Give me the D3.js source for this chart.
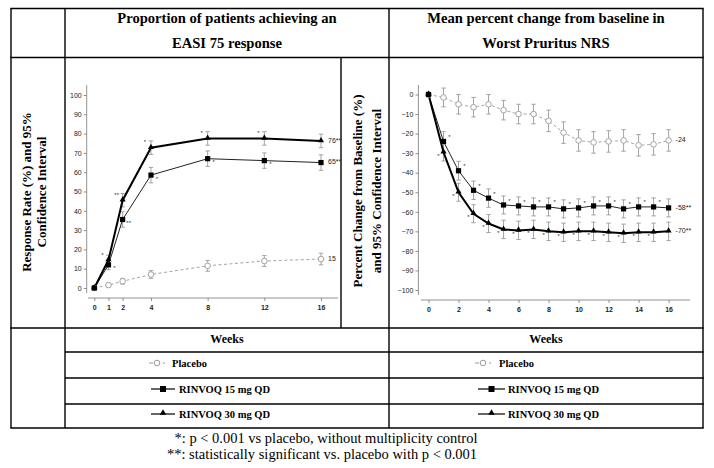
<!DOCTYPE html>
<html><head><meta charset="utf-8">
<script src="https://cdn.jsdelivr.net/npm/d3@7"></script>
<style>body{margin:0;background:#fff}svg{display:block}</style>
</head><body>
<svg id="c" width="714" height="468"></svg>
<script>
// ---------- DATA ----------
const weeksL = [0, 1, 2, 4, 8, 12, 16];
const placeboL = [0, 1.5, 3.5, 7, 11.5, 14, 15];
const placeboLci = [0, 1, 1.5, 2, 2.8, 2.8, 3];
const r15L = [0, 12, 35.5, 58.5, 67, 66, 65];
const r15Lci = [0, 2.5, 4, 4, 4, 4, 4];
const r30L = [0, 14.5, 45.5, 72.7, 77.5, 77.5, 76.2];
const r30Lci = [0, 2.5, 3.5, 3.5, 3.5, 3.5, 3.5];
const r15Lsig = ["", "*", "**", "*", "*", "*", ""];
const r30Lsig = ["", "*", "**", "*", "*", "*", ""];
const endLabelsL = ["15", "65**", "76**"];
const yTicksL = [0, 10, 20, 30, 40, 50, 60, 70, 80, 90, 100];
const xTicksL = [0, 1, 2, 4, 8, 12, 16];

const weeksR = [0,1,2,3,4,5,6,7,8,9,10,11,12,13,14,15,16];
const placeboR = [0,-1.5,-5,-6.5,-5,-8,-10,-10,-13.5,-19.5,-23.5,-24.5,-24,-23.5,-26,-25.5,-23.5];
const placeboRci = [0,4.8,5,5,5,5,5,5,5.5,5.5,5.5,5.5,5.5,5.5,5.5,5.5,5.5];
const r15R = [0,-24,-39,-49,-53,-56.5,-57,-57.5,-57.5,-58.5,-58,-57,-57,-58.5,-57.5,-57.5,-58];
const r15Rci = [0,5,4.8,4.7,4.7,4.6,4.6,4.6,4.6,4.6,4.6,4.6,4.6,4.6,4.6,4.6,4.6];
const r30R = [0,-29.5,-50,-61,-66,-69,-69.5,-69,-70,-70.5,-70,-70,-70.5,-71,-70.5,-70.5,-70];
const r30Rci = [0,4.5,4.6,4.6,4.6,4.7,4.7,4.7,4.7,4.7,4.7,4.7,4.7,4.7,4.7,4.7,4.7];
const r15Rsig = ["","*","*","*","*","*","*","*","*","*","*","*","*","*","*","*",""];
const r30Rsig = ["","*","*","*","*","*","*","*","*","*","*","*","*","*","*","*",""];
const endLabelsR = ["-24", "-58**", "-70**"];
const yTicksR = [0,-10,-20,-30,-40,-50,-60,-70,-80,-90,-100];
const xTicksR = [0,2,4,6,8,10,12,14,16];

const headerLeft = ["Proportion of patients achieving an", "EASI 75 response"];
const headerRight = ["Mean percent change from baseline in", "Worst Pruritus NRS"];
const yTitleLeft = ["Response Rate (%) and 95%", "Confidence Interval"];
const yTitleRight = ["Percent Change from Baseline (%)", "and 95% Confidence Interval"];
const xTitle = "Weeks";
const legendNames = ["Placebo", "RINVOQ 15 mg QD", "RINVOQ 30 mg QD"];
const footnotes = ["*: p < 0.001 vs placebo, without multiplicity control",
                   "**: statistically significant vs. placebo with p < 0.001"];

// ---------- DRAW ----------
const svg = d3.select("#c");
const SERIF = "'Liberation Serif','Times New Roman',serif";
const SANS = "'Liberation Sans',Arial,sans-serif";
const GREY = "#9a9a9a";

// table grid
const grid = svg.append("g").attr("stroke", "#000").attr("stroke-width", 1.4);
function hl(y, x1, x2){ grid.append("line").attr("x1",x1).attr("x2",x2).attr("y1",y).attr("y2",y); }
function vl(x, y1, y2){ grid.append("line").attr("x1",x).attr("x2",x).attr("y1",y1).attr("y2",y2); }
hl(8.5, 10.3, 703.7); hl(57.5, 10.3, 703.7); hl(328, 10.3, 703.7);
hl(352, 65, 703.7); hl(378, 65, 703.7); hl(404, 65, 703.7); hl(428, 10.3, 703.7);
vl(11, 8.5, 428); vl(65, 8.5, 428); vl(389, 8.5, 428); vl(703, 8.5, 428); vl(341, 57.5, 328);

// headers
function txt(x, y, s, size, weight, anchor, fam){
  return svg.append("text").attr("x",x).attr("y",y).attr("font-family",fam||SERIF)
    .attr("font-size",size).attr("font-weight",weight||"normal")
    .attr("text-anchor",anchor||"middle").attr("dominant-baseline","middle").text(s);
}
headerLeft.forEach((s,i)=>txt(227, 20 + i*25, s, 14.6, "bold"));
headerRight.forEach((s,i)=>txt(546, 20 + i*25, s, 14.6, "bold"));

// y titles (rotated)
function rot(x, y, s){
  svg.append("text").attr("transform",`translate(${x},${y}) rotate(-90)`)
    .attr("font-family",SERIF).attr("font-size",13).attr("font-weight","bold")
    .attr("text-anchor","middle").attr("dominant-baseline","middle").text(s);
}
rot(28, 192, yTitleLeft[0]); rot(43, 192, yTitleLeft[1]);
rot(359, 191, yTitleRight[0]); rot(378, 191, yTitleRight[1]);

// Weeks + legend rows
txt(227, 340, xTitle, 12, "bold"); txt(546, 340, xTitle, 12, "bold");

function legendSym(g, x, y, w, kind){
  const s = g.append("g");
  if (kind === 0){
    s.append("line").attr("x1",x).attr("x2",x+w).attr("y1",y).attr("y2",y)
      .attr("stroke",GREY).attr("stroke-width",1).attr("stroke-dasharray","4,3");
    s.append("circle").attr("cx",x+w/2).attr("cy",y).attr("r",2.8).attr("fill","#fff").attr("stroke",GREY);
  } else if (kind === 1){
    s.append("line").attr("x1",x).attr("x2",x+w).attr("y1",y).attr("y2",y).attr("stroke","#000").attr("stroke-width",1.2);
    s.append("rect").attr("x",x+w/2-3).attr("y",y-3).attr("width",6).attr("height",6).attr("fill","#000");
  } else {
    s.append("line").attr("x1",x).attr("x2",x+w).attr("y1",y).attr("y2",y).attr("stroke","#000").attr("stroke-width",1.2);
    s.append("path").attr("transform",`translate(${x+w/2},${y-1})`).attr("d",d3.symbol(d3.symbolTriangle,18)()).attr("fill","#000");
  }
}
const legY = [365, 391, 416];
// left column
legendSym(svg, 149, legY[0]-2, 16, 0); txt(172, legY[0], legendNames[0], 10.5, "bold", "start");
legendSym(svg, 151, legY[1]-2, 24, 1); txt(179, legY[1], legendNames[1], 10.5, "bold", "start");
legendSym(svg, 151, legY[2]-2, 24, 2); txt(179, legY[2], legendNames[2], 10.5, "bold", "start");
// right column
legendSym(svg, 475, legY[0]-2, 16, 0); txt(499, legY[0], legendNames[0], 10.5, "bold", "start");
legendSym(svg, 478, legY[1]-2, 27, 1); txt(508, legY[1], legendNames[1], 10.5, "bold", "start");
legendSym(svg, 478, legY[2]-2, 27, 2); txt(508, legY[2], legendNames[2], 10.5, "bold", "start");

// footnotes
txt(326, 440, footnotes[0], 14.5, "normal");
txt(322, 456, footnotes[1], 14.5, "normal");

// ---------- charts ----------
function chart(opt){
  const g = svg.append("g");
  const x = opt.x, y = opt.y;
  // y axis
  const ya = g.append("g").attr("transform",`translate(${opt.yAxisX},0)`)
    .call(d3.axisLeft(y).tickValues(opt.yTicks).tickSize(3).tickPadding(2));
  ya.select(".domain").remove();
  ya.selectAll("line").attr("stroke","#777").attr("stroke-width",0.8);
  ya.selectAll("text").attr("font-family",SANS).attr("font-size",7).attr("fill","#222");
  g.append("line").attr("x1",opt.yAxisX).attr("x2",opt.yAxisX).attr("y1",opt.yTop).attr("y2",opt.yBot)
    .attr("stroke","#777").attr("stroke-width",0.8);
  // x axis
  const xa = g.append("g").attr("transform",`translate(0,${opt.xAxisY})`)
    .call(d3.axisBottom(x).tickValues(opt.xTicks).tickSize(3).tickPadding(4));
  xa.select(".domain").remove();
  xa.selectAll("line").attr("stroke","#777").attr("stroke-width",0.8);
  xa.selectAll("text").attr("font-family",SANS).attr("font-size",7).attr("font-weight","bold").attr("fill","#222");
  g.append("line").attr("x1",opt.xLeft).attr("x2",opt.xRight).attr("y1",opt.xAxisY).attr("y2",opt.xAxisY)
    .attr("stroke","#777").attr("stroke-width",0.8);

  const line = d3.line().x(d=>x(d[0])).y(d=>y(d[1]));
  opt.series.forEach(s=>{
    const pts = opt.weeks.map((w,i)=>[w, s.v[i], s.ci[i]]);
    const eb = g.append("g").attr("stroke",GREY).attr("stroke-width",0.9);
    pts.forEach(p=>{
      if (!p[2]) return;
      const cx = x(p[0]);
      eb.append("line").attr("x1",cx).attr("x2",cx).attr("y1",y(p[1]-p[2])).attr("y2",y(p[1]+p[2]));
      [p[1]-p[2], p[1]+p[2]].forEach(v=>eb.append("line").attr("x1",cx-2.2).attr("x2",cx+2.2).attr("y1",y(v)).attr("y2",y(v)));
    });
  });
  opt.series.forEach(s=>{
    const pts = opt.weeks.map((w,i)=>[w, s.v[i]]);
    g.append("path").datum(pts).attr("d",line).attr("fill","none")
      .attr("stroke",s.color).attr("stroke-width",s.width).attr("stroke-dasharray",s.dash||null);
  });
  opt.series.forEach(s=>{
    const pts = opt.weeks.map((w,i)=>[w, s.v[i]]);
    pts.forEach((p,i)=>{
      const cx = x(p[0]), cy = y(p[1]);
      if (s.kind === 0) g.append("circle").attr("cx",cx).attr("cy",cy).attr("r",2.8).attr("fill","#fff").attr("stroke",GREY).attr("stroke-width",0.9);
      else if (s.kind === 1) g.append("rect").attr("x",cx-2.6).attr("y",cy-2.6).attr("width",5.2).attr("height",5.2).attr("fill","#000");
      else g.append("path").attr("transform",`translate(${cx},${cy-0.5})`).attr("d",d3.symbol(d3.symbolTriangle,16)()).attr("fill","#000");
      if (s.sig && s.sig[i]) g.append("text").attr("x",cx+s.sdx).attr("y",cy+s.sdy)
        .attr("font-family",SANS).attr("font-size",6).attr("fill","#333").attr("text-anchor","middle")
        .attr("dominant-baseline","middle").text(s.sig[i]);
    });
    const last = pts[pts.length-1];
    g.append("text").attr("x",x(last[0])+7).attr("y",y(last[1])).attr("font-family",SANS).attr("font-size",7)
      .attr("fill","#222").attr("dominant-baseline","middle").text(s.end);
  });
}

chart({
  x: d3.scaleLinear([0,16],[94.3,321]), y: d3.scaleLinear([0,100],[288,95]),
  yAxisX: 86.7, yTop: 85, yBot: 293, xAxisY: 298, xLeft: 88, xRight: 338,
  yTicks: yTicksL, xTicks: xTicksL, weeks: weeksL,
  series: [
    {v: placeboL, ci: placeboLci, kind: 0, color: GREY, width: 0.9, dash: "3,2.5", end: endLabelsL[0]},
    {v: r15L, ci: r15Lci, kind: 1, color: "#222", width: 1, sig: r15Lsig, sdx: 6, sdy: 4, end: endLabelsL[1]},
    {v: r30L, ci: r30Lci, kind: 2, color: "#000", width: 2, sig: r30Lsig, sdx: -6, sdy: -5, end: endLabelsL[2]}
  ]
});

chart({
  x: d3.scaleLinear([0,16],[428.5,668.6]), y: d3.scaleLinear([-100,0],[290,94.5]),
  yAxisX: 418.4, yTop: 85, yBot: 295, xAxisY: 300, xLeft: 421, xRight: 690,
  yTicks: yTicksR, xTicks: xTicksR, weeks: weeksR,
  series: [
    {v: placeboR, ci: placeboRci, kind: 0, color: GREY, width: 0.9, dash: "3,2.5", end: endLabelsR[0]},
    {v: r15R, ci: r15Rci, kind: 1, color: "#222", width: 1, sig: r15Rsig, sdx: 6, sdy: -4, end: endLabelsR[1]},
    {v: r30R, ci: r30Rci, kind: 2, color: "#000", width: 2, sig: r30Rsig, sdx: -5, sdy: 4, end: endLabelsR[2]}
  ]
});
</script>
</body></html>
